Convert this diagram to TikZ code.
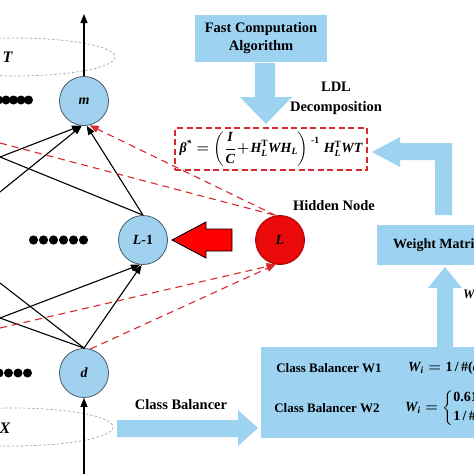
\documentclass[tikz,border=0pt]{standalone}
\usepackage{amsmath}
\usepackage{fontspec}
\setmainfont{Liberation Serif}
\usetikzlibrary{arrows.meta}
\definecolor{boxblue}{RGB}{157,211,241}
\definecolor{nodeblue}{RGB}{160,210,240}
\definecolor{nodeedge}{RGB}{70,90,110}
\definecolor{dashred}{RGB}{215,40,45}
\definecolor{hidred}{RGB}{235,10,10}
\newcommand{\mi}[1]{\mbox{\bfseries\itshape #1}}
\newcommand{\ms}[1]{\mbox{\fontsize{9.5}{11}\selectfont\bfseries\itshape #1}}
\newcommand{\mt}[1]{\mbox{\fontsize{9.5}{11}\selectfont\bfseries #1}}
\newsavebox{\formulabox}
\newsavebox{\wonebox}
\newsavebox{\wtwobox}
\tikzset{
  neuron/.style={circle, draw=nodeedge, fill=nodeblue, line width=0.8pt, minimum size=49pt, inner sep=0pt, font=\fontsize{14}{16}\selectfont\bfseries\itshape},
  redneuron/.style={neuron, draw=red!60!black, fill=hidred},
  conn/.style={line width=1.1pt, black},
  connarr/.style={conn, -{Triangle[length=9pt,width=7pt]}},
  reddash/.style={line width=1.1pt, dashred, dash pattern=on 7pt off 5pt},
  reddasharr/.style={reddash, -{Triangle[length=9pt,width=7pt]}},
  ring/.style={gray!70, line width=0.7pt, dash pattern=on 2.5pt off 2pt},
  bluebox/.style={fill=boxblue, draw=none},
  lbl/.style={font=\fontsize{14.5}{17}\selectfont\bfseries, inner sep=0pt},
  boxtxt/.style={font=\fontsize{13}{15}\selectfont\bfseries, inner sep=0pt},
  formframe/.style={draw=dashred, line width=1.1pt, dash pattern=on 6pt off 3.5pt, minimum width=192pt, minimum height=42pt, inner sep=0pt},
  dotty/.style={black},
}
\begin{document}
\sbox{\formulabox}{\fontsize{14}{17}\selectfont\boldmath$\mi{β}^{\ms{*}}=\left(\vrule height 14pt depth 14pt width 0pt\displaystyle\frac{\mi{I}}{\mi{C}}\!+\!\mi{H}^{\mt{T}}_{\ms{L}}\mi{W}\mi{H}_{\ms{L}}\right)\raisebox{9pt}{\mt{-1}}\;\mi{H}^{\mt{T}}_{\ms{L}}\mi{W}\mi{T}$}
\sbox{\wonebox}{\fontsize{14}{16}\selectfont\boldmath$\mi{W}_{\ms{i}}=\mbox{\bfseries 1\,/\,\#(}\mi{a}$}
\sbox{\wtwobox}{\fontsize{14}{16}\selectfont\boldmath$\mi{W}_{\ms{i}}=\left\{\begin{array}{@{}l}\mbox{\bfseries 0.61}\\[3pt] \mbox{\bfseries 1\,/\,\#(}\mi{a}\end{array}\right.$}
\begin{tikzpicture}[x=1pt,y=-1pt]
\useasboundingbox (0,0) rectangle (474,474);
\clip (0,0) rectangle (474,474);

% dashed layer rings
\draw[ring] (15,57) ellipse [x radius=100, y radius=19];
\draw[ring] (13,427) ellipse [x radius=100, y radius=19];
\node[font=\fontsize{16}{18}\selectfont\bfseries\itshape, inner sep=0pt] (tlab) at (7.5,57) {T};
\node[font=\fontsize{16}{18}\selectfont\bfseries\itshape, inner sep=0pt] (xlab) at (5,428) {X};

% dots
\foreach \x in {-1.5,6,13.5,21,28.5} \fill[dotty] (\x,100) circle (4.5);
\foreach \x in {33.5,43.5,53.5,63.5,73.5,83.5} \fill[dotty] (\x,240) circle (4.6);
\foreach \x in {-1,8.5,18,27.5} \fill[dotty] (\x,373) circle (4.5);

% neurons
\node[neuron] (m) at (84,101) {m};
\node[neuron] (l1) at (143,240) {L\textup{-1}};
\node[neuron] (d) at (84,373) {d};
\node[redneuron] (L) at (280,240) {L};

% left-side connection ends
\coordinate (a1) at (0,157);
\coordinate (a2) at (0,192);
\coordinate (a3) at (0,283);
\coordinate (a4) at (0,318);
\coordinate (r1) at (0,143);
\coordinate (r2) at (0,328);
\coordinate (top) at (84,14);
\coordinate (bot) at (84,476);

% input / output arrows
\draw[connarr] (m.north) -- (top);
\draw[connarr] (bot) -- (d.south);

% black connections
\draw[connarr] (a1) -- (m.-97);
\draw[connarr] (a2) -- (m.-95);
\draw[conn] (a1) -- (l1.north);
\draw[connarr] (l1.north) -- (m.-84);
\draw[conn] (a3) -- (d.north);
\draw[conn] (a4) -- (d.north);
\draw[connarr] (a4) -- (l1.-97);
\draw[connarr] (d.north) -- (l1.-93);

% red dashed connections
\draw[reddasharr] (L.100) -- (m.-77);
\draw[reddash] (r1) -- (L.100);
\draw[reddasharr] (r2) -- (L.-100);
\draw[reddasharr] (d.75) -- (L.-100);

% big red arrow
\draw[line width=0.9pt, black, fill=red] (172,240) -- (206,222) -- (206,229) -- (232,229) -- (232,251) -- (206,251) -- (206,258) -- cycle;

% Fast computation box and arrow
\node[bluebox, minimum width=132pt, minimum height=47pt, align=center, lbl] (fca) at (261,38.5) {Fast Computation\\[1pt]Algorithm};
\fill[boxblue] (255,63) -- (275,63) -- (275,97) -- (292,97) -- (266,124) -- (240,97) -- (255,97) -- cycle;
\node[lbl, align=center] (ldl) at (336,98) {LDL\\[3pt]Decomposition};

% formula box
\node[formframe] (beta) at (271,149) {\usebox{\formulabox}};

\node[lbl] (hid) at (334,206) {Hidden Node};

% elbow arrow from weight matrix to formula
\fill[boxblue] (435,215) -- (435,160) -- (400,160) -- (400,167) -- (372,152) -- (400,137) -- (400,143) -- (452,143) -- (452,215) -- cycle;

% Weight matrix box
\fill[boxblue] (377,225) rectangle (490,265);
\node[anchor=west, inner sep=0pt, font=\fontsize{14}{16}\selectfont\bfseries] (wm) at (393,245) {Weight Matrix};

% up arrow into weight matrix
\fill[boxblue] (437,350) -- (437,288) -- (428,288) -- (445,267) -- (462,288) -- (453,288) -- (453,350) -- cycle;
\node[anchor=west, inner sep=0pt, font=\fontsize{13}{15}\selectfont\bfseries\itshape] (wl) at (463,294) {W};

% Class balancer arrow
\fill[boxblue] (117,420) -- (238,420) -- (238,410) -- (258,428) -- (238,446) -- (238,437) -- (117,437) -- cycle;
\node[lbl] (cbl) at (181,405) {Class Balancer};

% Class balancer box
\fill[boxblue] (261,347) rectangle (490,438);
\node[boxtxt] (cb1) at (329,368) {Class Balancer W1};
\node[boxtxt] (cb2) at (327,408) {Class Balancer W2};
\node[anchor=west, inner sep=0pt] (w1) at (408,368) {\usebox{\wonebox}};
\node[anchor=west, inner sep=0pt] (w2) at (405,408) {\usebox{\wtwobox}};
\end{tikzpicture}
\end{document}
